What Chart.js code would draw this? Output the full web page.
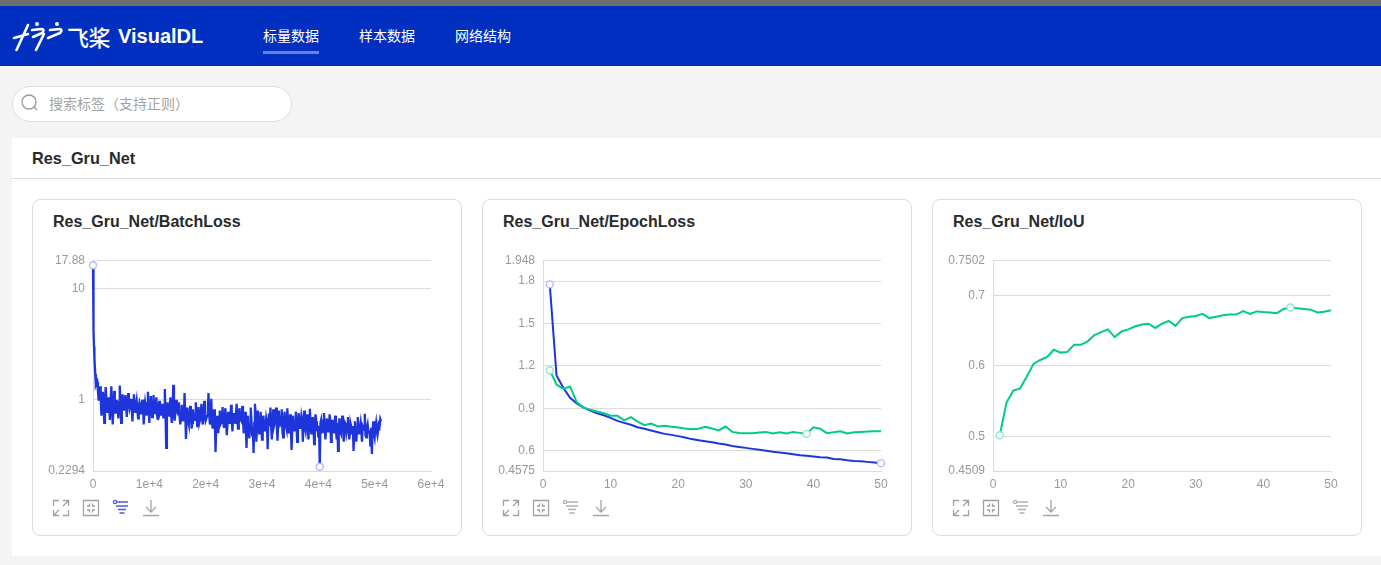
<!DOCTYPE html>
<html lang="zh"><head><meta charset="utf-8"><title>VisualDL</title>
<script src="https://cdn.jsdelivr.net/npm/chart.js@4"></script>
<style>
html,body{margin:0;padding:0;width:1381px;height:565px;overflow:hidden;background:#f4f4f4;font-family:"Liberation Sans",Arial,sans-serif}
.abs,.abs *{box-sizing:border-box}
.abs{position:absolute}
#strip{left:0;top:0;width:1381px;height:6px;background:#6e6e6e}
#nav{left:0;top:6px;width:1381px;height:60px;background:#012fc0}
.cn{font-family:"Noto Sans CJK SC",sans-serif}
.navi{top:25px;color:#fff;font-size:14px;line-height:20px;white-space:nowrap}
#under{left:263px;top:51px;width:56px;height:3px;background:#6a80d8}
#search{left:12px;top:86px;width:280px;height:36px;border:1px solid #ddd;border-radius:18px;background:#fff}
#ph{left:49px;top:93px;font-size:14px;line-height:20px;color:#a3a3a3;white-space:nowrap}
#section{left:12px;top:138px;width:1369px;height:418px;background:#fff}
#sechead{left:12px;top:178px;width:1369px;height:1px;background:#ddd}
#sect{left:32px;top:149px;font-weight:700;font-size:16.3px;line-height:18px;color:#2a2a2a}
.card{top:199px;width:430px;height:337px;border:1px solid #ddd;border-radius:8px;background:#fff}
.ct{top:212px;font-weight:700;font-size:16px;line-height:20px;color:#2a2a2a;white-space:nowrap}
canvas{position:absolute;top:245px;display:block}
</style></head><body>
<div class="abs" id="strip"></div><div class="abs" id="nav"></div>
<svg class="abs" style="left:10px;top:16px" width="60" height="40" viewBox="0 0 60 40" fill="none" stroke="#fff" stroke-width="2.6" stroke-linecap="round" stroke-linejoin="round">
<path d="M4 22 L18 18 M6.500 34 L18 9"/>
<path d="M22 14 L32 13 Q35 14 32 17 L23 21 M26 34 L34 18"/>
<path d="M40 14 L50 13 Q53 14 50 17 L38 22"/>
<circle cx="27" cy="8" r="2" fill="#fff" stroke="none"/><circle cx="47" cy="8" r="2" fill="#fff" stroke="none"/>
</svg>
<div class="abs cn" style="left:67px;top:21px;color:#fff;font-size:22px;line-height:30px;font-weight:500;white-space:nowrap;letter-spacing:-.5px">飞桨</div>
<div class="abs" style="left:118px;top:24px;color:#fff;font-size:20px;line-height:24px;font-weight:700;white-space:nowrap">VisualDL</div>
<div class="abs cn navi" style="left:263px">标量数据</div>
<div class="abs cn navi" style="left:359px">样本数据</div>
<div class="abs cn navi" style="left:455px">网络结构</div>
<div class="abs" id="under"></div>
<div class="abs" id="search"></div>
<svg class="abs" style="left:20px;top:93px" width="20" height="20" fill="none" stroke="#999" stroke-width="1.3"><circle cx="9" cy="9" r="7"/><path d="M14 14 L17 17"/></svg>
<div class="abs cn" id="ph">搜索标签（支持正则）</div>
<div class="abs" id="section"></div><div class="abs" id="sechead"></div>
<div class="abs" id="sect">Res_Gru_Net</div>
<div id="cards"></div>
<script>
const cardTitles = ["Res_Gru_Net/BatchLoss", "Res_Gru_Net/EpochLoss", "Res_Gru_Net/IoU"];

const batchSteps = [0,60,120,180,250,400,500,
750,875,1000,1125,1250,1375,1500,1625,1750,1875,2000,2125,2250,2375,2500,2625,2750,2875,3000,3125,3250,3375,3500,3625,3750,3875,4000,4125,4250,4375,4500,4625,4750,4875,5000,5125,
5250,5375,5500,5625,5750,5875,6000,6125,6250,6375,6500,6625,6750,6875,7000,7125,7250,7375,7500,7625,7750,7875,8000,8125,8250,8375,8500,8625,8750,8875,9000,9125,9250,9375,9500,9625,9750,9875,10000,10125,
10250,10375,10500,10625,10750,10875,11000,11125,11250,11375,11500,11625,11750,11875,12000,12125,12250,12375,12500,12625,12750,12875,13000,13125,13250,13375,13500,13625,13750,13875,14000,14125,14250,14375,14500,14625,14750,14875,15000,15125,
15250,15375,15500,15625,15750,15875,16000,16125,16250,16375,16500,16625,16750,16875,17000,17125,17250,17375,17500,17625,17750,17875,18000,18125,18250,18375,18500,18625,18750,18875,19000,19125,19250,19375,19500,19625,19750,19875,20000,20125,
20250,20375,20500,20625,20750,20875,21000,21125,21250,21375,21500,21625,21750,21875,22000,22125,22250,22375,22500,22625,22750,22875,23000,23125,23250,23375,23500,23625,23750,23875,24000,24125,24250,24375,24500,24625,24750,24875,25000,25125,
25250,25375,25500,25625,25750,25875,26000,26125,26250,26375,26500,26625,26750,26875,27000,27125,27250,27375,27500,27625,27750,27875,28000,28125,28250,28375,28500,28625,28750,28875,29000,29125,29250,29375,29500,29625,29750,29875,30000,30125,
30250,30375,30500,30625,30750,30875,31000,31125,31250,31375,31500,31625,31750,31875,32000,32125,32250,32375,32500,32625,32750,32875,33000,33125,33250,33375,33500,33625,33750,33875,34000,34125,34250,34375,34500,34625,34750,34875,35000,35125,
35250,35375,35500,35625,35750,35875,36000,36125,36250,36375,36500,36625,36750,36875,37000,37125,37250,37375,37500,37625,37750,37875,38000,38125,38250,38375,38500,38625,38750,38875,39000,39125,39250,39375,39500,39625,39750,39875,40000,40125,
40250,40375,40500,40625,40750,40875,41000,41125,41250,41375,41500,41625,41750,41875,42000,42125,42250,42375,42500,42625,42750,42875,43000,43125,43250,43375,43500,43625,43750,43875,44000,44125,44250,44375,44500,44625,44750,44875,45000,45125,
45250,45375,45500,45625,45750,45875,46000,46125,46250,46375,46500,46625,46750,46875,47000,47125,47250,47375,47500,47625,47750,47875,48000,48125,48250,48375,48500,48625,48750,48875,49000,49125,49250,49375,49500,49625,49750,49875,50000,50125,50250,50375,50500,50625,50750,50875,51000,51125];
const batchLoss = [16.1,10.5,4.2,3.0,2.4,1.7,1.35,
1.45,1.2,.98,1.1,1.32,1,.72,.95,1.18,.9,.62,.95,1.3,1,.78,.92,1.05,.85,.66,.95,1.32,.9,.6,.85,1.2,.98,.75,.88,1.0,.82,.68,.95,1.34,.9,.62,.95,
1.12,.92,.8,.95,1.1,.88,.7,.92,1.15,.96,.84,.9,1.02,.84,.64,.9,1.12,.95,.78,.88,.98,.82,.68,.86,.95,.9,.74,.84,1.0,.88,.6,.82,.95,.86,.72,.9,1.18,.88,.62,.92,
1.08,.84,.7,.8,1.1,.76,.82,.86,1.05,.72,.66,.8,.98,.76,.8,.72,.92,.78,.68,.84,1.25,.72,.37,.8,.95,.74,.72,.82,1.05,.72,.62,.78,1.36,.86,.65,.76,1.0,.8,.78,.74,
.95,.7,.6,.76,.9,.68,.7,.64,1.15,.74,.445,.7,.85,.64,.6,.68,.88,.74,.55,.62,.82,.7,.68,.66,.95,.74,.58,.68,.86,.62,.66,.72,.92,.66,.6,.7,.98,.74,.65,.68,
.72,.76,1.15,.74,.6,.66,1.02,.62,.55,.72,.82,.66,.34,.58,.72,.64,.5,.7,.8,.6,.62,.68,.86,.64,.56,.7,.84,.64,.48,.6,.78,.68,.62,.62,.9,.66,.52,.7,.76,.64,
.62,.72,.92,.7,.55,.62,.84,.68,.66,.64,.88,.7,.5,.6,.78,.58,.37,.64,.72,.54,.45,.6,.85,.66,.48,.56,.333,.62,.92,.72,.42,.58,.8,.62,.5,.54,.78,.62,.44,.58,
.72,.58,.52,.56,.68,.62,.36,.64,.75,.58,.85,.56,.44,.64,.82,.58,.62,.64,.85,.58,.43,.6,.8,.66,.6,.62,.82,.52,.46,.58,.78,.62,.62,.54,.84,.62,.5,.58,.74,.56,
.354,.54,.72,.62,.52,.64,.78,.58,.42,.56,.76,.66,.56,.6,.72,.66,.42,.62,.8,.56,.52,.64,.74,.58,.44,.64,.83,.6,.5,.56,.7,.62,.4,.58,.74,.64,.55,.56,.46,.58,
.25,.62,.66,.56,.5,.64,.76,.58,.44,.54,.68,.62,.52,.56,.74,.64,.42,.58,.66,.54,.5,.6,.72,.54,.44,.62,.347,.56,.68,.52,.5,.58,.72,.62,.42,.54,.62,.6,.5,.54,
.7,.58,.44,.52,.6,.56,.5,.58,.347,.5,.64,.54,.42,.56,.7,.5,.5,.56,.62,.52,.42,.58,.56,.54,.75,.48,.46,.56,.6,.52,.52,.48,.38,.56,.326,.54,.64,.5,.46,.56,.62,.52,.48,.54,.6,.58,.67,.64];
const batchMarkers = [0, 40250];
const batchXTicks = [0,10000,20000,30000,40000,50000,60000];
const batchXLabels = ["0","1e+4","2e+4","3e+4","4e+4","5e+4","6e+4"];
const batchYTicks = [0.2294,1,10,17.88];
const batchYLabels = ["0.2294","1","10","17.88"];

const epochs = [1,2,3,4,5,6,7,8,9,10,11,12,13,14,15,16,17,18,19,20,21,22,23,24,25,26,27,28,29,30,31,32,33,34,35,36,37,38,39,40,41,42,43,44,45,46,47,48,49,50];
const epochTrain = [1.777,1.133,1.046,.975,.935,.906,.885,.866,.852,.833,.812,.798,.784,.767,.756,.744,.732,.72,.713,.704,.694,.683,.675,.668,.661,.652,.645,.635,.628,.621,.614,.607,.6,.593,.588,.583,.576,.569,.565,.56,.555,.553,.543,.541,.534,.529,.527,.522,.517,.513];
const epochVal = [1.17,1.069,1.038,1.055,.944,.906,.89,.878,.866,.848,.848,.815,.838,.807,.782,.793,.772,.777,.77,.765,.758,.753,.756,.77,.758,.744,.772,.734,.727,.725,.725,.73,.734,.723,.732,.723,.734,.727,.72,.767,.756,.725,.732,.739,.723,.732,.734,.737,.739,.739];
const trainMarkers = [1, 50];
const valMarkers = [1, 39];
const epochXTicks = [0,10,20,30,40,50];
const epochXLabels = ["0","10","20","30","40","50"];
const lossYTicks = [0.4575,0.6,0.9,1.2,1.5,1.8,1.948];
const lossYLabels = ["0.4575","0.6","0.9","1.2","1.5","1.8","1.948"];

const iou = [.5017,.548,.565,.568,.585,.603,.6085,.613,.623,.619,.62,.63,.63,.635,.644,.648,.652,.641,.649,.652,.656,.659,.66,.654,.66,.664,.657,.668,.67,.671,.674,.668,.67,.672,.673,.673,.678,.674,.6775,.6766,.676,.675,.681,.683,.682,.681,.68,.676,.677,.679];
const iouMarkers = [1, 44];
const iouYTicks = [0.4509,0.5,0.6,0.7,0.7502];
const iouYLabels = ["0.4509","0.5","0.6","0.7","0.7502"];

const BLUE = "#1f35dc", GREEN = "#00cc88";
const cardLefts = [32, 482, 932];

function icons(left, active) {
  const on = active ? "#4a5ce0" : "#b0b0b0";
  return `<svg class="abs" style="left:${left+20}px;top:499px" width="110" height="18" fill="none" stroke="#a0a0a0" stroke-width="1.3">
  <path d="M1.5 7 V1.5 H7 M11 1.5 H16.500 V7 M16.500 11 V16.500 H11 M7 16.500 H1.5 V11 M2 16 L7 11 M16 2 L11 7"/>
  <path d="M31.500 1.500 H46.500 V16.500 H31.500 Z M35 7 H37.500 V4.500 M43 7 H40.500 V4.500 M35 11 H37.500 V13.500 M43 11 H40.500 V13.500"/>
  <g stroke="${on}"><circle cx="63" cy="3" r="1.6"/><path d="M65 3 H76 M64 7 H76 M66 10.500 H74 M67.500 14 H72.500" stroke-width="1.5"/></g>
  <path d="M99 1 V13 M94 8 L99 13 L104 8 M91 16.500 H107" stroke="#a6a6a6"/></svg>`;
}
document.getElementById("cards").innerHTML = cardLefts.map((l, i) =>
  `<div class="abs card" style="left:${l}px"></div><div class="abs ct" style="left:${l+21}px">${cardTitles[i]}</div>${icons(l, i===0)}<canvas id="c${i}" width="428" height="255" style="left:${l+1}px"></canvas>`).join("");

function ds(points, color, markers, ring, width) {
  return {
    data: points, borderColor: color, borderWidth: width || 2, tension: 0, clip: false,
    pointRadius: c => markers.includes(c.raw.x) ? 3.5 : 0,
    pointHoverRadius: 0, pointBackgroundColor: "#fff", pointBorderColor: ring, pointBorderWidth: 1.4
  };
}
function series(xs, ys) { return xs.map((x, i) => ({ x, y: ys[i] })); }

function make(id, datasets, xMax, xTicks, xLabels, yType, yMin, yMax, yTicks, yLabels) {
  new Chart(document.getElementById(id), {
    type: "line",
    data: { datasets },
    options: {
      responsive: false, animation: false, devicePixelRatio: 1,
      layout: { autoPadding: false, padding: { top: 10, right: 30, left: 0, bottom: 0 } },
      plugins: { legend: { display: false }, title: { display: false }, tooltip: { enabled: false } },
      scales: {
        x: {
          type: "linear", min: 0, max: xMax,
          afterBuildTicks: s => { s.ticks = xTicks.map(v => ({ value: v })); },
          afterFit: s => { s.height = 29; },
          grid: { display: false, drawTicks: false },
          border: { color: "#dcdcdc", width: 1 },
          ticks: { autoSkip: false, maxRotation: 0, padding: 6, color: "#999", font: { size: 12, family: "Liberation Sans" },
            callback: v => xLabels[xTicks.indexOf(v)] }
        },
        y: {
          type: yType, min: yMin, max: yMax,
          afterBuildTicks: s => { s.ticks = yTicks.map(v => ({ value: v })); },
          afterFit: s => { s.width = 60; },
          grid: { color: "#dcdcdc", drawTicks: false },
          border: { color: "#dcdcdc", width: 1 },
          ticks: { autoSkip: false, padding: 8, color: "#999", labelOffset: 0, font: { size: 12, family: "Liberation Sans" },
            callback: v => yLabels[yTicks.indexOf(v)] }
        }
      }
    }
  });
}
make("c0", [ds(series(batchSteps, batchLoss), BLUE, batchMarkers, "#b3b8f5", 2.3)], 60000, batchXTicks, batchXLabels, "logarithmic", 0.2294, 17.88, batchYTicks, batchYLabels);
make("c1", [ds(series(epochs, epochVal), GREEN, valMarkers, "#8fe8c9"), ds(series(epochs, epochTrain), BLUE, trainMarkers, "#b3b8f5")], 50, epochXTicks, epochXLabels, "linear", 0.4575, 1.948, lossYTicks, lossYLabels);
make("c2", [ds(series(epochs, iou), GREEN, iouMarkers, "#8fe8c9")], 50, epochXTicks, epochXLabels, "linear", 0.4509, 0.7502, iouYTicks, iouYLabels);
</script>
</body></html>
